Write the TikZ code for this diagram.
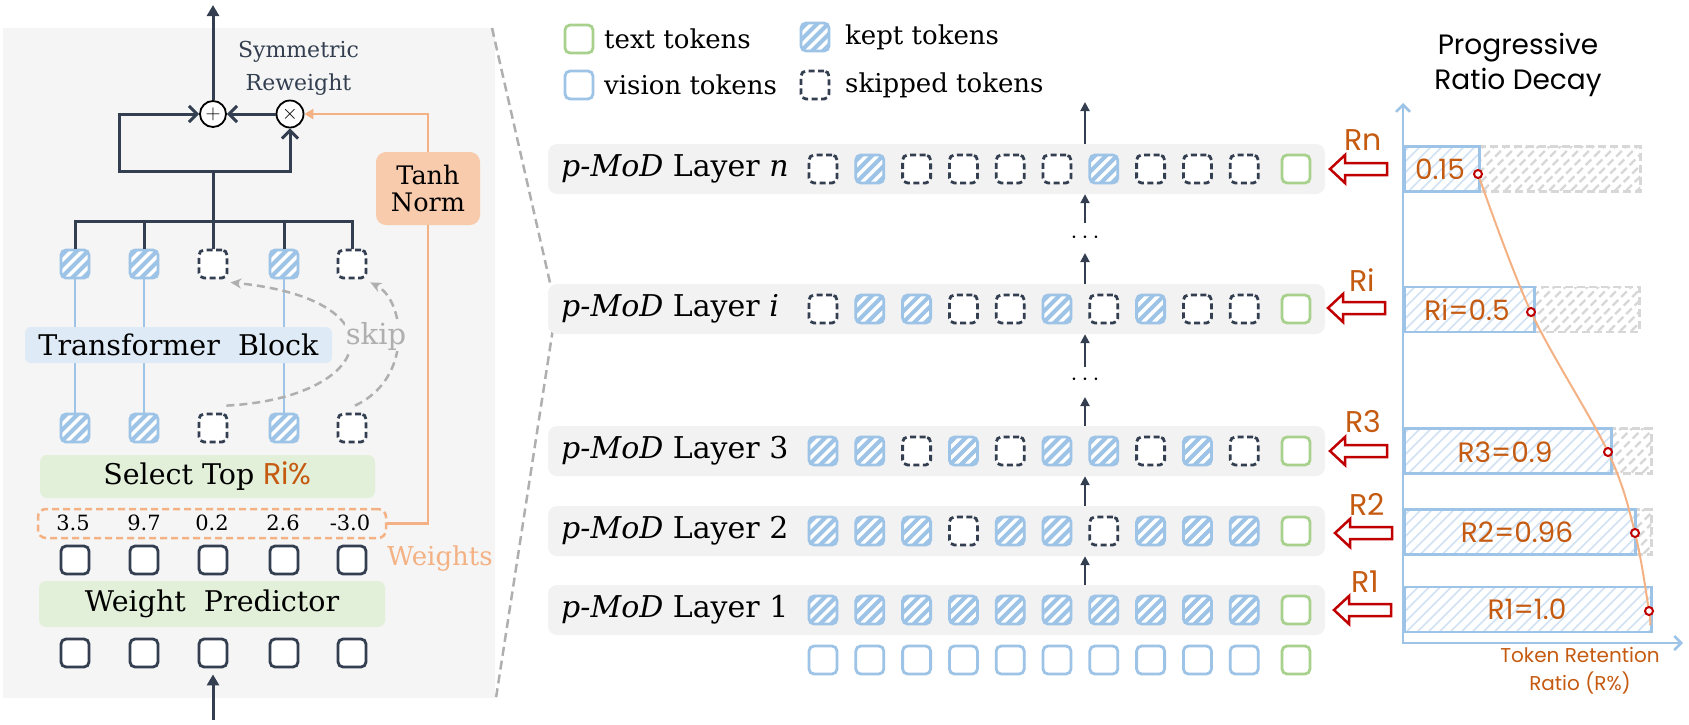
\documentclass[tikz,border=0pt]{standalone}
\usepackage{fontspec}
\setmainfont{DejaVu Serif}
\newfontfamily\comic{Poppins}
\usetikzlibrary{arrows.meta,calc}
\definecolor{dark}{RGB}{51,63,80}
\definecolor{kblue}{RGB}{157,195,230}
\definecolor{tgreen}{RGB}{169,209,142}
\definecolor{panelbg}{RGB}{245,245,245}
\definecolor{rowgray}{RGB}{242,242,242}
\definecolor{gfill}{RGB}{226,240,217}
\definecolor{tbfill}{RGB}{222,235,247}
\definecolor{tanhfill}{RGB}{248,203,173}
\definecolor{oline}{RGB}{244,177,131}
\definecolor{obrown}{RGB}{197,90,17}
\definecolor{dred}{RGB}{192,0,0}
\definecolor{skipgray}{RGB}{175,175,175}
\definecolor{hatchblue}{RGB}{208,226,244}
\definecolor{hatchgray}{RGB}{215,215,215}
\newcommand\myfs[1]{\fontsize{#1}{#1}\selectfont}
\begin{document}
\begin{tikzpicture}[x=1pt,y=-1pt,
 tokbase/.style={minimum width=28pt,minimum height=28pt,inner sep=0pt,rounded corners=5pt,line width=2.8pt},
 kept/.style={tokbase,draw=kblue,fill=white,path picture={\foreach \q in {-3,...,3}{\draw[kblue,line width=4pt] ([xshift=\q*11pt]path picture bounding box.center) ++(-20pt,-20pt) -- ++(40pt,40pt);}}},
 skiptok/.style={tokbase,draw=dark,dash pattern=on 6pt off 3.5pt,fill=white},
 darktok/.style={tokbase,draw=dark,fill=white},
 vistok/.style={tokbase,draw=kblue,fill=white},
 txttok/.style={tokbase,draw=tgreen,fill=white},
 dline/.style={draw=dark,line width=3pt},
 chev/.style={-{Straight Barb[length=8pt,width=16pt]}},
 rowbg/.style={fill=rowgray,rounded corners=9pt,minimum width=777pt,minimum height=50pt,inner sep=0pt},
 lbl/.style={font=\myfs{30},anchor=west,inner sep=0pt},
 leg/.style={font=\myfs{26},anchor=west,inner sep=0pt},
 midarr/.style={draw=dark,line width=2pt,-{Triangle[length=9pt,width=9pt]}},
 barblue/.style={draw=kblue,line width=2.5pt,fill=white,minimum height=45pt,inner sep=0pt,anchor=west,path picture={\foreach \q in {-25,...,25}{\draw[hatchblue,line width=1.6pt] ([xshift=\q*11pt]path picture bounding box.center) ++(-30pt,-30pt) -- ++(60pt,60pt);}}},
 bargray/.style={draw=hatchgray,dash pattern=on 8pt off 4pt,line width=2.5pt,fill=white,minimum height=45pt,inner sep=0pt,anchor=west,path picture={\foreach \q in {-25,...,25}{\draw[hatchgray,line width=2.2pt] ([xshift=\q*11pt]path picture bounding box.center) ++(-30pt,-30pt) -- ++(60pt,60pt);}}},
 redarr/.style={draw=dred,line width=2.5pt,fill=white},
 rdot/.style={circle,draw=dred,fill=white,line width=2pt,minimum size=8pt,inner sep=0pt},
 blab/.style={font={\comic\myfs{28}},text=obrown,inner sep=0pt},
 rlab/.style={font={\comic\myfs{30}},text=obrown,inner sep=0pt}
]
\useasboundingbox (0,0) rectangle (1689,724);

% ---------------- left panel ----------------
\node[fill=panelbg,minimum width=492pt,minimum height=670pt,inner sep=0pt,anchor=north west] (panel) at (3,28) {};
\draw[skipgray,line width=2.5pt,dash pattern=on 9pt off 5pt] (492,28) -- (556,309) -- (496,698);

\node[circle,draw=black,fill=white,line width=1.8pt,minimum size=26pt,inner sep=0pt] (plus) at (213,114) {\myfs{22}$+$};
\node[circle,draw=black,fill=white,line width=1.8pt,minimum size=27pt,inner sep=0pt] (times) at (290,114) {\myfs{22}$\times$};
\node[font={\fontsize{22}{33}\selectfont},text=dark,align=center] (symrw) at (298.5,68) {Symmetric\\Reweight};

\foreach \st/\x [count=\k] in {kept/75,kept/144,skiptok/213,kept/284,skiptok/352}{
  \node[\st] (U\k) at (\x,264) {};
  \node[\st] (D\k) at (\x,428) {};
  \node[darktok] (W\k) at (\x,560) {};
  \node[darktok] (B\k) at (\x,653) {};
}
\foreach \k in {1,2,4}{\draw[kblue,line width=2.5pt] (D\k.north) -- (U\k.south);}

\coordinate (bus) at (213,221);
\coordinate (lpB) at (213,171);
\coordinate (lpL) at (119,171);
\coordinate (lpR) at (290,171);
\coordinate (topend) at (213,5);
\coordinate (botstart) at (213,720);
\draw[dline] (U1.north) |- (bus) -| (U5.north);
\foreach \k in {2,3,4}{\draw[dline] (U\k.north) -- (U\k.north |- bus);}
\draw[dline] (bus) -- (lpB);
\draw[dline,{Straight Barb[length=8pt,width=16pt]}-{Straight Barb[length=8pt,width=16pt]}] (plus.west) -| (lpL) -- (lpR) -- (times.south);
\draw[dline,chev] (times.west) -- (plus.east);
\draw[dline,-{Triangle[length=11pt,width=12pt]}] (plus.north) -- (topend);
\draw[dline,-{Triangle[length=11pt,width=12pt]}] (botstart) -- ([yshift=-6pt]B3.south);

\node[fill=tbfill,rounded corners=6pt,minimum width=307pt,minimum height=36pt,inner sep=0pt,font=\myfs{28.5}] (tb) at (178.5,345) {Transformer~~Block};

\draw[skipgray,line width=2.5pt,dash pattern=on 8pt off 5pt,-{Stealth[length=11pt,width=10pt]}] ([shift={(-2pt,7pt)}]D3.north east) .. controls (375,398) and (405,300) .. ([shift={(2pt,-3pt)}]U3.south east);
\draw[skipgray,line width=2.5pt,dash pattern=on 8pt off 5pt,-{Stealth[length=11pt,width=10pt]}] ([shift={(3pt,7pt)}]D5.north) .. controls (414,378) and (405,300) .. ([shift={(3pt,-3pt)}]U5.south east);
\node[fill=panelbg,inner sep=1pt,text=skipgray,font=\myfs{29}] (skiplbl) at (376,336) {skip};

\node[fill=gfill,rounded corners=7pt,minimum width=335pt,minimum height=43pt,inner sep=0pt,font=\myfs{28.5}] (sel) at (207.5,476.5) {Select Top {\comic\myfs{30}\color{obrown}Ri\%}};
\node[draw=oline,dash pattern=on 7pt off 4pt,line width=2.5pt,rounded corners=8pt,minimum width=348pt,minimum height=29pt,inner sep=0pt] (wbox) at (212,523.5) {};
\foreach \v/\x [count=\k] in {3.5/73,9.7/144,0.2/212,2.6/283,-3.0/350}{\node[font=\myfs{21},inner sep=0pt] (num\k) at (\x,523) {\v};}
\node[font=\myfs{26},text=oline,anchor=west,inner sep=0pt] (wlbl) at (387,558) {Weights};
\node[fill=gfill,rounded corners=7pt,minimum width=346pt,minimum height=46pt,inner sep=0pt,font=\myfs{28.5}] (wp) at (212,604) {Weight~~Predictor};

\node[fill=tanhfill,rounded corners=10pt,minimum width=104pt,minimum height=73pt,inner sep=0pt,align=center,font={\fontsize{25.5}{27}\selectfont}] (tanh) at (428,188.5) {Tanh\\Norm};
\draw[oline,line width=2.5pt] (wbox.east) -| (tanh.south);
\draw[oline,line width=2.5pt,-{Triangle[length=9pt,width=10pt]}] (tanh.north) |- (times.east);

% ---------------- legend ----------------
\node[txttok] (lgt) at (579,39) {};
\node[leg] (lgtt) at (604,39) {text tokens};
\node[vistok] (lgv) at (579,85) {};
\node[leg] (lgvt) at (604,85) {vision tokens};
\node[kept] (lgk) at (815,37) {};
\node[leg] (lgkt) at (845,37) {kept tokens};
\node[skiptok] (lgs) at (815,85) {};
\node[leg] (lgst) at (845,85) {skipped tokens};

% ---------------- layer rows ----------------
\node[rowbg] (rown) at (936.5,169) {};
\node[rowbg] (rowi) at (936.5,309) {};
\node[rowbg] (row3) at (936.5,451) {};
\node[rowbg] (row2) at (936.5,531) {};
\node[rowbg] (row1) at (936.5,610) {};
\node[lbl] (ln) at (561,169) {\textit{p-MoD} Layer \textit{n}};
\node[lbl] (li) at (561,309) {\textit{p-MoD} Layer \textit{i}};
\node[lbl] (l3) at (561,451) {\textit{p-MoD} Layer 3};
\node[lbl] (l2) at (561,531) {\textit{p-MoD} Layer 2};
\node[lbl] (l1) at (561,610) {\textit{p-MoD} Layer 1};

\foreach \st [count=\k from 0] in {skiptok,kept,skiptok,skiptok,skiptok,skiptok,kept,skiptok,skiptok,skiptok}{\node[\st] (n\k) at ({823+46.8*\k},169) {};}
\foreach \st [count=\k from 0] in {skiptok,kept,kept,skiptok,skiptok,kept,skiptok,kept,skiptok,skiptok}{\node[\st] (i\k) at ({823+46.8*\k},309) {};}
\foreach \st [count=\k from 0] in {kept,kept,skiptok,kept,skiptok,kept,kept,skiptok,kept,skiptok}{\node[\st] (c\k) at ({823+46.8*\k},451) {};}
\foreach \st [count=\k from 0] in {kept,kept,kept,skiptok,kept,kept,skiptok,kept,kept,kept}{\node[\st] (b\k) at ({823+46.8*\k},531) {};}
\foreach \k in {0,...,9}{\node[kept] (a\k) at ({823+46.8*\k},610) {};}
\foreach \k in {0,...,9}{\node[vistok] (v\k) at ({823+46.8*\k},660) {};}
\node[txttok] (n10) at (1296,169) {};
\node[txttok] (i10) at (1296,309) {};
\node[txttok] (c10) at (1296,451) {};
\node[txttok] (b10) at (1296,531) {};
\node[txttok] (a10) at (1296,610) {};
\node[txttok] (v10) at (1296,660) {};

\coordinate (ax) at (1085,0);
\coordinate (tipTop) at (1085,102);
\coordinate (d2a) at (1085,253);
\coordinate (d2b) at (1085,223);
\coordinate (d1a) at (1085,397);
\coordinate (d1b) at (1085,367);
\draw[midarr] (row1.north -| ax) -- (row2.south -| ax);
\draw[midarr] (row2.north -| ax) -- (row3.south -| ax);
\draw[midarr] (row3.north -| ax) -- (d1a);
\node[font=\myfs{24},inner sep=0pt] (dots1) at (1085,380) {$\cdots$};
\draw[midarr] (d1b) -- (rowi.south -| ax);
\draw[midarr] (rowi.north -| ax) -- (d2a);
\node[font=\myfs{24},inner sep=0pt] (dots2) at (1085,238) {$\cdots$};
\draw[midarr] (d2b) -- (rown.south -| ax);
\draw[midarr] (rown.north -| ax) -- (tipTop);

% ---------------- ratio chart ----------------
\node[font={\comic\fontsize{28}{35}\selectfont},align=center] (title) at (1518,64.5) {Progressive\\Ratio Decay};
\coordinate (origin) at (1403,643);
\coordinate (ytip) at (1403,103);
\coordinate (xtip) at (1683,643);
\draw[kblue,line width=2.5pt,{Straight Barb[length=7pt,width=14pt]}-{Straight Barb[length=7pt,width=14pt]}] (ytip) -- (origin) -- (xtip);

\node[bargray,minimum width=161pt] (gn) at (1478,169) {};
\node[barblue,minimum width=75pt] (bn) at (1403,169) {};
\node[bargray,minimum width=105pt] (gi) at (1533,309.5) {};
\node[barblue,minimum width=130pt] (bi) at (1403,309.5) {};
\node[bargray,minimum width=40pt] (g3) at (1610,451) {};
\node[barblue,minimum width=207pt] (b3) at (1403,451) {};
\node[bargray,minimum width=16pt] (g2) at (1634,532) {};
\node[barblue,minimum width=231pt] (b2) at (1403,532) {};
\node[barblue,minimum width=247pt] (b1) at (1403,609.5) {};

\node[blab] (tn) at (1440,169) {0.15};
\node[blab] (ti) at (1467,310) {Ri=0.5};
\node[blab] (t3) at (1505,452) {R3=0.9};
\node[blab] (t2) at (1517,532) {R2=0.96};
\node[blab] (t1) at (1527,609) {R1=1.0};

\draw[oline,line width=2pt] plot[smooth,tension=0.55] coordinates {(1478,174) (1531,312) (1608,452) (1635,533) (1649,611) (1650,625)};
\node[rdot] (pn) at (1478,174) {};
\node[rdot] (pi) at (1531,312) {};
\node[rdot] (p3) at (1608,452) {};
\node[rdot] (p2) at (1635,533) {};
\node[rdot] (p1) at (1649,611) {};

\foreach \tx/\ty in {1330/169,1328/308,1330/451,1335/533,1334/610}{
  \draw[redarr] (\tx,\ty) -- ++(15,-14) -- ++(0,8) -- ++(42,0) -- ++(0,12) -- ++(-42,0) -- ++(0,8) -- cycle;
}
\node[rlab] (rn) at (1363,140) {Rn};
\node[rlab] (ri) at (1362,280) {Ri};
\node[rlab] (r3) at (1363,422) {R3};
\node[rlab] (r2) at (1367,504) {R2};
\node[rlab] (r1) at (1365,582) {R1};

\node[font={\comic\fontsize{20}{28}\selectfont},text=obrown,align=center] (xlab) at (1580,671) {Token Retention\\Ratio (R\%)};
\end{tikzpicture}
\end{document}
